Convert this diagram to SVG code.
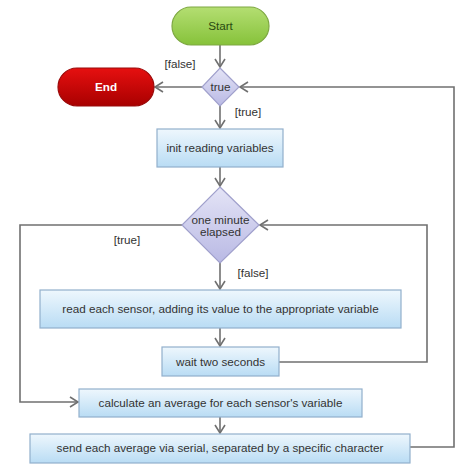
<svg xmlns="http://www.w3.org/2000/svg" width="474" height="473" viewBox="0 0 474 473">
<defs>
<linearGradient id="gBox" x1="0" y1="0" x2="0" y2="1"><stop offset="0" stop-color="#eef7fd"/><stop offset="1" stop-color="#b9dcf4"/></linearGradient>
<linearGradient id="gDia" x1="0" y1="0" x2="0" y2="1"><stop offset="0" stop-color="#e4e4f6"/><stop offset="1" stop-color="#b9b9e4"/></linearGradient>
<linearGradient id="gStart" x1="0" y1="0" x2="0" y2="1"><stop offset="0" stop-color="#b4de72"/><stop offset="1" stop-color="#86c23a"/></linearGradient>
<linearGradient id="gEnd" x1="0" y1="0" x2="0" y2="1"><stop offset="0" stop-color="#e61010"/><stop offset="1" stop-color="#a80000"/></linearGradient>
<marker id="arr" markerUnits="userSpaceOnUse" markerWidth="12" markerHeight="12" refX="9" refY="6" orient="auto">
<path d="M1,1 L9,6 L1,11" fill="none" stroke="#707070" stroke-width="1.6"/>
</marker>
</defs>
<style>
.box{fill:url(#gBox);stroke:#92b0cc;stroke-width:1.2}
.dia{fill:url(#gDia);stroke:#a0a0cc;stroke-width:1.2}
.t{font-family:"Liberation Sans",Arial,sans-serif;font-size:11.7px;fill:#333;text-anchor:middle}
.lbl{font-family:"Liberation Sans",Arial,sans-serif;font-size:11.7px;fill:#333;text-anchor:middle}
.c{fill:none;stroke:#707070;stroke-width:1.6}
</style>
<rect width="474" height="473" fill="#ffffff"/>
<g id="connectors">
<path class="c" d="M220,45 V67" marker-end="url(#arr)"/>
<path class="c" d="M202,87 H155" marker-end="url(#arr)"/>
<path class="c" d="M220,106 V128" marker-end="url(#arr)"/>
<path class="c" d="M220,167 V186" marker-end="url(#arr)"/>
<path class="c" d="M220,263 V289" marker-end="url(#arr)"/>
<path class="c" d="M220,328 V346" marker-end="url(#arr)"/>
<path class="c" d="M220,417 V433" marker-end="url(#arr)"/>
<path class="c" d="M182,225 H20 V402 H78" marker-end="url(#arr)"/>
<path class="c" d="M279,362 H427 V225 H260" marker-end="url(#arr)"/>
<path class="c" d="M410,447 H454 V87 H240" marker-end="url(#arr)"/>
<text class="lbl" x="180" y="68">[false]</text>
<text class="lbl" x="248" y="116">[true]</text>
<text class="lbl" x="127" y="244">[true]</text>
<text class="lbl" x="253" y="277">[false]</text>
</g>
<g id="start">
<rect x="172" y="7" width="97" height="38" rx="19" fill="url(#gStart)" stroke="#7ea842" stroke-width="1.2"/>
<text class="t" x="220.5" y="30" style="fill:#2a4a12">Start</text>
</g>
<g id="end">
<rect x="58" y="68" width="96" height="38" rx="19" fill="url(#gEnd)" stroke="#9a0a0a" stroke-width="1.2"/>
<text class="t" x="106" y="91" style="fill:#ffffff;font-weight:bold">End</text>
</g>
<g id="decision1">
<polygon class="dia" points="220,68 239,87 220,106 202,87"/>
<text class="t" x="220.5" y="91">true</text>
</g>
<g id="init">
<rect class="box" x="157" y="129" width="126" height="38"/>
<text class="t" x="220" y="152">init reading variables</text>
</g>
<g id="decision2">
<polygon class="dia" points="220,187 259,225 220,263 182,225"/>
<text class="t" x="220.5" y="224">one minute</text>
<text class="t" x="220.5" y="236">elapsed</text>
</g>
<g id="read">
<rect class="box" x="40" y="290" width="361" height="38"/>
<text class="t" x="220.5" y="313">read each sensor, adding its value to the appropriate variable</text>
</g>
<g id="wait">
<rect class="box" x="162" y="347" width="117" height="29"/>
<text class="t" x="220.5" y="366">wait two seconds</text>
</g>
<g id="calc">
<rect class="box" x="79" y="389" width="283" height="28"/>
<text class="t" x="220.5" y="407">calculate an average for each sensor's variable</text>
</g>
<g id="send">
<rect class="box" x="30" y="434" width="380" height="29"/>
<text class="t" x="220" y="452">send each average via serial, separated by a specific character</text>
</g>
</svg>
